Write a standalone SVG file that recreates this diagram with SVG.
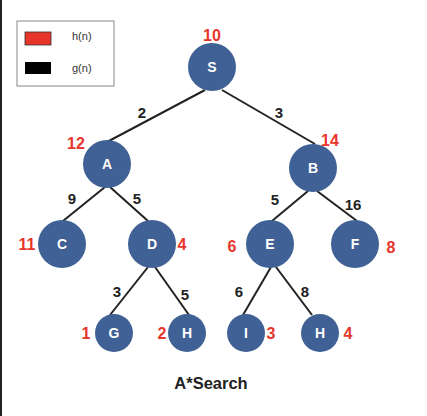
<svg xmlns="http://www.w3.org/2000/svg" width="427" height="416" viewBox="0 0 427 416">
<style>
.node circle{fill:#3f6195;}
.node text{fill:#fff;font-family:"Liberation Sans",Arial,sans-serif;font-weight:bold;font-size:14px;text-anchor:middle;}
.h{fill:#e8352c;font-family:"Liberation Sans",Arial,sans-serif;font-weight:bold;font-size:16px;text-anchor:middle;}
.g{fill:#222;font-family:"Liberation Sans",Arial,sans-serif;font-weight:bold;font-size:15px;text-anchor:middle;}
.edges line{stroke:#222;stroke-width:2;}
.leg{fill:#333;font-family:"Liberation Sans",Arial,sans-serif;font-size:11px;}
</style>
<rect x="0" y="0" width="427" height="416" fill="#fff"/>
<rect x="0" y="0" width="2" height="416" fill="#222"/>
<g id="legend">
<rect x="17" y="21" width="97" height="65" fill="#fff" stroke="#888" stroke-width="1"/>
<rect x="25" y="32" width="26" height="13" fill="#e8352c" stroke="#333" stroke-width="0.8"/>
<rect x="25" y="62" width="26" height="12" fill="#000"/>
<text class="leg" x="72" y="40">h(n)</text>
<text class="leg" x="72" y="72">g(n)</text>
</g>
<g id="edges" class="edges">
<line x1="205" y1="90" x2="107" y2="142"/>
<line x1="222" y1="90" x2="315" y2="144"/>
<line x1="105" y1="187" x2="63" y2="221"/>
<line x1="110" y1="187" x2="148" y2="221"/>
<line x1="308" y1="191" x2="272" y2="221"/>
<line x1="317" y1="191" x2="357" y2="221"/>
<line x1="148" y1="267" x2="110" y2="315"/>
<line x1="155" y1="267" x2="189" y2="315"/>
<line x1="271" y1="267" x2="243" y2="315"/>
<line x1="276" y1="267" x2="312" y2="315"/>
</g>
<g id="edge-labels">
<text class="g" x="142" y="118">2</text>
<text class="g" x="279" y="118">3</text>
<text class="g" x="72" y="204">9</text>
<text class="g" x="137" y="204">5</text>
<text class="g" x="275" y="205">5</text>
<text class="g" x="353" y="210">16</text>
<text class="g" x="117" y="297">3</text>
<text class="g" x="185" y="300">5</text>
<text class="g" x="239" y="297">6</text>
<text class="g" x="305" y="297">8</text>
</g>
<g id="node-S" class="node"><circle cx="212" cy="67" r="24"/><text x="212" y="72">S</text></g>
<g id="node-A" class="node"><circle cx="107" cy="164" r="24"/><text x="107" y="169">A</text></g>
<g id="node-B" class="node"><circle cx="313" cy="168" r="24"/><text x="313" y="173">B</text></g>
<g id="node-C" class="node"><circle cx="62" cy="244" r="24"/><text x="62" y="249">C</text></g>
<g id="node-D" class="node"><circle cx="152" cy="244" r="24"/><text x="152" y="249">D</text></g>
<g id="node-E" class="node"><circle cx="270" cy="244" r="24"/><text x="270" y="249">E</text></g>
<g id="node-F" class="node"><circle cx="355" cy="244" r="24"/><text x="355" y="249">F</text></g>
<g id="node-G" class="node"><circle cx="114" cy="333" r="19"/><text x="114" y="338">G</text></g>
<g id="node-H1" class="node"><circle cx="187" cy="333" r="19"/><text x="187" y="338">H</text></g>
<g id="node-I" class="node"><circle cx="246" cy="333" r="19"/><text x="246" y="338">I</text></g>
<g id="node-H2" class="node"><circle cx="320" cy="333" r="19"/><text x="320" y="338">H</text></g>
<g id="heuristics">
<text class="h" x="212" y="41">10</text>
<text class="h" x="76" y="149">12</text>
<text class="h" x="330" y="146">14</text>
<text class="h" x="27" y="250">11</text>
<text class="h" x="182" y="250">4</text>
<text class="h" x="232" y="252">6</text>
<text class="h" x="391" y="253">8</text>
<text class="h" x="86" y="339">1</text>
<text class="h" x="162" y="339">2</text>
<text class="h" x="271" y="339">3</text>
<text class="h" x="348" y="339">4</text>
</g>
<text x="211" y="389" fill="#222" font-family="'Liberation Sans',Arial,sans-serif" font-weight="bold" font-size="16.5" text-anchor="middle">A*Search</text>
</svg>
